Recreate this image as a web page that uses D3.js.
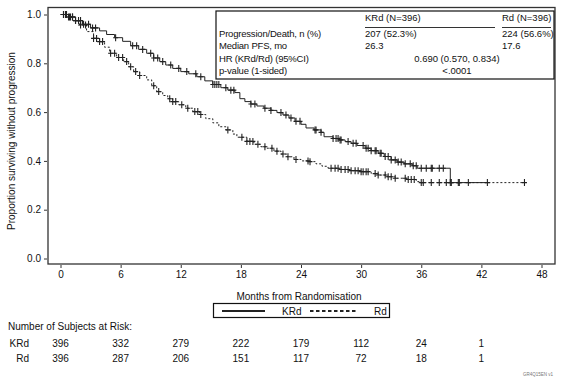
<!DOCTYPE html>
<html>
<head>
<meta charset="utf-8">
<script src="https://cdn.jsdelivr.net/npm/d3@7"></script>
<style>
  body { margin: 0; background: #fff; }
  svg { display: block; }
  text { font-family: "Liberation Sans", Arial, sans-serif; fill: #111; }
</style>
</head>
<body>
<div id="chart"></div>
<script>

// KM step points (months, proportion)
var krdTimes = [0, 0.8, 1.5, 2.2, 3.0, 3.9, 4.6, 5.4, 6.2, 7.0, 7.8, 8.6, 9.3, 9.9, 10.5, 11.2, 12.0, 12.8, 13.6, 14.4,
    15.2, 16.0, 16.7, 17.4, 17.9, 18.4, 19.0, 19.6, 20.3, 21.0, 21.6, 22.2, 22.8, 23.4, 24.0, 24.5, 25.3, 26.0, 26.3,
    27.2, 27.8, 28.4, 29.0, 29.6, 30.4, 31.0, 31.7, 32.3, 33.0, 33.6, 34.3, 35.1, 35.6, 38.9, 42.6];
var krdSurv = [1.0, 0.99, 0.975, 0.96, 0.945, 0.933, 0.918, 0.905, 0.89, 0.872, 0.857, 0.841, 0.822, 0.807, 0.793, 0.779,
    0.766, 0.757, 0.745, 0.728, 0.713, 0.700, 0.690, 0.680, 0.655, 0.643, 0.633, 0.625, 0.616, 0.607, 0.598, 0.588,
    0.576, 0.562, 0.550, 0.535, 0.527, 0.517, 0.499, 0.492, 0.486, 0.479, 0.472, 0.463, 0.452, 0.442, 0.431, 0.418,
    0.404, 0.395, 0.388, 0.380, 0.370, 0.311, 0.311];

var rdTimes = [0, 0.8, 1.5, 1.9, 2.6, 3.3, 3.9, 4.4, 4.9, 5.6, 6.3, 6.8, 7.3, 7.9, 8.6, 9.1, 9.6, 10.2, 10.7, 11.2,
    11.8, 12.5, 13.2, 13.9, 14.5, 15.2, 15.8, 16.5, 17.2, 17.6, 18.6, 19.3, 20.0, 20.6, 21.3, 22.0, 22.6, 23.3, 24.0,
    24.8, 25.5, 26.1, 26.7, 27.8, 28.8, 30.0, 31.0, 31.7, 32.6, 33.4, 34.6, 35.5, 35.8, 46.3];
var rdSurv = [1.0, 0.99, 0.975, 0.957, 0.930, 0.902, 0.889, 0.866, 0.841, 0.824, 0.807, 0.786, 0.766, 0.750, 0.732,
    0.708, 0.684, 0.668, 0.655, 0.643, 0.630, 0.616, 0.602, 0.590, 0.573, 0.556, 0.540, 0.527, 0.510, 0.497, 0.480,
    0.468, 0.458, 0.452, 0.440, 0.428, 0.417, 0.406, 0.400, 0.397, 0.388, 0.378, 0.370, 0.365, 0.360, 0.356, 0.348,
    0.342, 0.335, 0.329, 0.324, 0.315, 0.311, 0.311];

// censoring times
var krdCens = [0.3, 0.5, 0.8, 1.0, 1.2, 1.5, 1.8, 2.0, 2.3, 2.8, 3.2, 3.5, 5.5, 7.2, 7.6, 8.2, 9.0, 9.3, 9.7, 10.2,
    11.0, 11.8, 12.6, 13.5, 14.0, 15.2, 15.4, 15.6, 15.8, 16.5, 17.0, 17.3, 19.0, 19.4, 20.4, 21.0, 22.0, 22.5, 23.0,
    23.5, 23.9, 25.4, 25.5, 26.0, 27.2, 27.5, 27.7, 27.9, 28.0, 28.7, 29.2, 29.5, 30.2, 30.5, 30.7, 31.0, 31.4, 31.5,
    31.9, 32.0, 32.4, 32.7, 33.0, 33.4, 33.7, 34.0, 34.4, 34.9, 35.2, 35.5, 36.0, 36.5, 37.0, 37.1, 37.8, 38.2, 38.9,
    39.8, 40.7, 42.6];
var rdCens = [0.3, 0.6, 0.9, 1.2, 1.5, 2.0, 2.5, 3.3, 3.6, 3.9, 4.2, 5.0, 5.4, 5.8, 6.2, 6.6, 7.0, 7.5, 7.9, 9.3,
    9.8, 10.9, 11.2, 11.5, 12.1, 12.7, 13.4, 13.7, 14.0, 16.7, 18.1, 18.6, 18.9, 19.2, 19.7, 20.4, 21.1, 21.6, 22.2,
    22.7, 23.5, 24.7, 24.9, 27.0, 27.4, 27.7, 28.0, 28.4, 28.7, 29.0, 29.4, 29.7, 30.0, 30.2, 30.5, 30.7, 31.4, 31.7,
    32.4, 32.7, 33.0, 33.4, 34.4, 34.7, 35.0, 35.3, 36.0, 36.2, 37.0, 37.8, 38.5, 39.0, 39.7, 46.3];

var xTicks = [0, 6, 12, 18, 24, 30, 36, 42, 48];
var yTicks = [0, 0.2, 0.4, 0.6, 0.8, 1.0];

var riskTimes = [0, 6, 12, 18, 24, 30, 36, 42];
var riskKRd = [396, 332, 279, 222, 179, 112, 24, 1];
var riskRd = [396, 287, 206, 151, 117, 72, 18, 1];

var statRows = ["Progression/Death, n (%)", "Median PFS, mo", "HR (KRd/Rd) (95%CI)", "p-value (1-sided)"];
var statKRd = ["207 (52.3%)", "26.3"];
var statRd = ["224 (56.6%)", "17.6"];
var statShared = ["0.690 (0.570, 0.834)", "<.0001"];

var W = 569, H = 383;
var frame = {left: 48, right: 555, top: 7.5, bottom: 264};

var svg = d3.select("#chart").append("svg")
    .attr("width", W)
    .attr("height", H);

var x = d3.scaleLinear().domain([0, 48]).range([60.5, 541.5]);
var y = d3.scaleLinear().domain([0, 1]).range([258.5, 14.5]);

// frame
svg.append("rect")
    .attr("x", frame.left).attr("y", frame.top)
    .attr("width", frame.right - frame.left)
    .attr("height", frame.bottom - frame.top)
    .attr("fill", "none").attr("stroke", "#333").attr("stroke-width", 1.3);

// axes
var yAxis = svg.append("g")
    .attr("transform", "translate(" + (frame.left - 1) + ",0)")
    .call(d3.axisLeft(y).tickValues(yTicks).tickFormat(d3.format(".1f")).tickSize(3).tickPadding(3));
var xAxis = svg.append("g")
    .attr("transform", "translate(0," + (frame.bottom + 1) + ")")
    .call(d3.axisBottom(x).tickValues(xTicks).tickSize(3).tickPadding(3));
[yAxis, xAxis].forEach(function(a) {
    a.select(".domain").remove();
    a.selectAll(".tick line").attr("stroke", "#333");
    a.selectAll("text").attr("font-size", 10).attr("fill", "#111")
        .style("font-family", "'Liberation Sans', Arial, sans-serif");
});

svg.append("text")
    .attr("transform", "translate(15," + 141 + ") rotate(-90)")
    .attr("text-anchor", "middle")
    .attr("font-size", 10)
    .text("Proportion surviving without progression");

svg.append("text")
    .attr("x", 299).attr("y", 300)
    .attr("text-anchor", "middle")
    .attr("font-size", 10)
    .text("Months from Randomisation");

function survAt(times, surv, t) {
    var i = d3.bisectRight(times, t) - 1;
    return surv[Math.max(0, i)];
}

var line = d3.line()
    .x(function(d) { return x(d[0]); })
    .y(function(d) { return y(d[1]); })
    .curve(d3.curveStepAfter);

function drawCurve(times, surv, cens, dash) {
    var pts = times.map(function(t, i) { return [t, surv[i]]; });
    svg.append("path")
        .datum(pts)
        .attr("d", line)
        .attr("fill", "none")
        .attr("stroke", "#222")
        .attr("stroke-width", 1)
        .attr("stroke-dasharray", dash);
    svg.append("g").selectAll("path")
        .data(cens)
        .join("path")
        .attr("d", function(t) {
            var cx = x(t), cy = y(survAt(times, surv, t));
            return "M" + (cx - 2.5) + "," + cy + "H" + (cx + 2.5) + "M" + cx + "," + (cy - 3.5) + "V" + (cy + 3.5);
        })
        .attr("stroke", "#222")
        .attr("stroke-width", 1.1);
}

drawCurve(rdTimes, rdSurv, rdCens, "2,2");
drawCurve(krdTimes, krdSurv, krdCens, null);

// stats box
var sb = svg.append("g");
sb.append("rect")
    .attr("x", 216).attr("y", 11).attr("width", 338).attr("height", 68)
    .attr("fill", "#fff").attr("stroke", "#111").attr("stroke-width", 1.2);
var fs = 9.5;
sb.append("text").attr("x", 365).attr("y", 21).attr("font-size", fs).text("KRd (N=396)");
sb.append("text").attr("x", 502).attr("y", 21).attr("font-size", fs).text("Rd (N=396)");
sb.append("line").attr("x1", 365).attr("x2", 495).attr("y1", 27.5).attr("y2", 27.5).attr("stroke", "#333");
sb.append("line").attr("x1", 502).attr("x2", 551).attr("y1", 27.5).attr("y2", 27.5).attr("stroke", "#333");
statRows.forEach(function(r, i) {
    sb.append("text").attr("x", 219).attr("y", 37 + i * 12.3).attr("font-size", fs)
        .attr("letter-spacing", -0.2).text(r);
});
statKRd.forEach(function(v, i) {
    sb.append("text").attr("x", 365).attr("y", 37 + i * 12.3).attr("font-size", fs).text(v);
});
statRd.forEach(function(v, i) {
    sb.append("text").attr("x", 502).attr("y", 37 + i * 12.3).attr("font-size", fs).text(v);
});
statShared.forEach(function(v, i) {
    sb.append("text").attr("x", 457).attr("y", 37 + (i + 2) * 12.3)
        .attr("text-anchor", "middle").attr("font-size", fs).text(v);
});

// legend
var lg = svg.append("g");
lg.append("rect")
    .attr("x", 213.5).attr("y", 303.5).attr("width", 176).attr("height", 14)
    .attr("fill", "none").attr("stroke", "#111").attr("stroke-width", 1.2);
lg.append("line").attr("x1", 222).attr("x2", 265).attr("y1", 311).attr("y2", 311)
    .attr("stroke", "#222").attr("stroke-width", 2);
lg.append("text").attr("x", 282).attr("y", 314.5).attr("font-size", 10).text("KRd");
lg.append("line").attr("x1", 310).attr("x2", 357).attr("y1", 311).attr("y2", 311)
    .attr("stroke", "#222").attr("stroke-width", 2).attr("stroke-dasharray", "3.5,2.5");
lg.append("text").attr("x", 374).attr("y", 314.5).attr("font-size", 10).text("Rd");

// number at risk
svg.append("text").attr("x", 8).attr("y", 330).attr("font-size", 10).text("Number of Subjects at Risk:");
svg.append("text").attr("x", 29).attr("y", 347).attr("text-anchor", "end").attr("font-size", 10).text("KRd");
svg.append("text").attr("x", 29).attr("y", 362).attr("text-anchor", "end").attr("font-size", 10).text("Rd");
svg.append("g").selectAll("text")
    .data(riskTimes)
    .join("text")
    .attr("x", function(t) { return x(t); })
    .attr("y", 347)
    .attr("text-anchor", "middle")
    .attr("font-size", 10)
    .text(function(t, i) { return riskKRd[i]; });
svg.append("g").selectAll("text")
    .data(riskTimes)
    .join("text")
    .attr("x", function(t) { return x(t); })
    .attr("y", 362)
    .attr("text-anchor", "middle")
    .attr("font-size", 10)
    .text(function(t, i) { return riskRd[i]; });

svg.append("text").attr("x", 553).attr("y", 376).attr("text-anchor", "end")
    .attr("font-size", 4.5).style("fill", "#777").text("GR4Q15EN  v1");

</script>
</body>
</html>
